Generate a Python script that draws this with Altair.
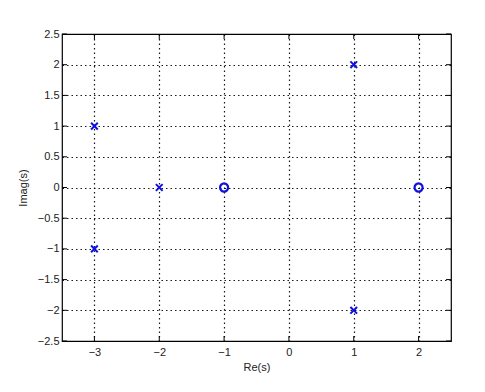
import altair as alt
import pandas as pd

pole_re = [-3, -3, -2, 1, 1]
pole_im = [1, -1, 0, 2, -2]
zero_re = [-1, 2]
zero_im = [0, 0]
x_ticks = [-3, -2, -1, 0, 1, 2]
y_ticks = [-2.5, -2, -1.5, -1, -0.5, 0, 0.5, 1, 1.5, 2, 2.5]

W, H = 389, 307
FONT = "Liberation Sans"
BLUE = "#1010e0"

poles = pd.DataFrame({"re": pole_re, "im": pole_im})
zeros = pd.DataFrame({"re": zero_re, "im": zero_im})
xt = pd.DataFrame({"re": x_ticks})
yt = pd.DataFrame({"im": y_ticks})

xs = alt.Scale(domain=[-3.5, 2.5], nice=False, zero=False)
ys = alt.Scale(domain=[-2.5, 2.5], nice=False, zero=False)

common = dict(grid=True, gridDash=[1.5, 3], gridColor="black", gridOpacity=0.9,
              gridWidth=1.2, ticks=False, domain=False, format="~g",
              labelFont=FONT, labelFontSize=11, labelColor="#222",
              labelOverlap=False, labelBound=False, titleFont=FONT, titleFontSize=11,
              titleFontWeight="normal", titleColor="#222")
xaxis = alt.Axis(values=x_ticks, title="Re(s)", labelPadding=5, titlePadding=4, **common)
yaxis = alt.Axis(values=y_ticks, title="Imag(s)", labelPadding=3, titlePadding=9, **common)

X = alt.X("re:Q", scale=xs, axis=xaxis)
Y = alt.Y("im:Q", scale=ys, axis=yaxis)

pole_layer = alt.Chart(poles).mark_point(
    shape="M-1,-1L1,1M1,-1L-1,1", filled=False, color=BLUE, size=45, strokeWidth=2,
    opacity=1
).encode(x=X, y=Y)

zero_layer = alt.Chart(zeros).mark_point(
    shape="circle", filled=False, color=BLUE, size=65, strokeWidth=2.2, opacity=1
).encode(x=X, y=Y)

tick_style = dict(color="black", strokeWidth=1)
xb = alt.Chart(xt).mark_rule(**tick_style).encode(
    x=X, y=alt.value(H), y2=alt.value(H - 5))
xtop = alt.Chart(xt).mark_rule(**tick_style).encode(
    x=X, y=alt.value(0), y2=alt.value(5))
yl = alt.Chart(yt).mark_rule(**tick_style).encode(
    y=Y, x=alt.value(0), x2=alt.value(5))
yr = alt.Chart(yt).mark_rule(**tick_style).encode(
    y=Y, x=alt.value(W), x2=alt.value(W - 5))

chart = alt.layer(pole_layer, zero_layer, xb, xtop, yl, yr).properties(
    width=W, height=H,
    autosize=alt.AutoSizeParams(type="none"),
    padding={"left": 62, "top": 34, "right": 34, "bottom": 51},
    background="white",
).configure_view(stroke="black", strokeWidth=1.2
).configure_axis(labelOverlap=False)

chart.save("out.html", embed_options={"renderer": "svg", "actions": False})
